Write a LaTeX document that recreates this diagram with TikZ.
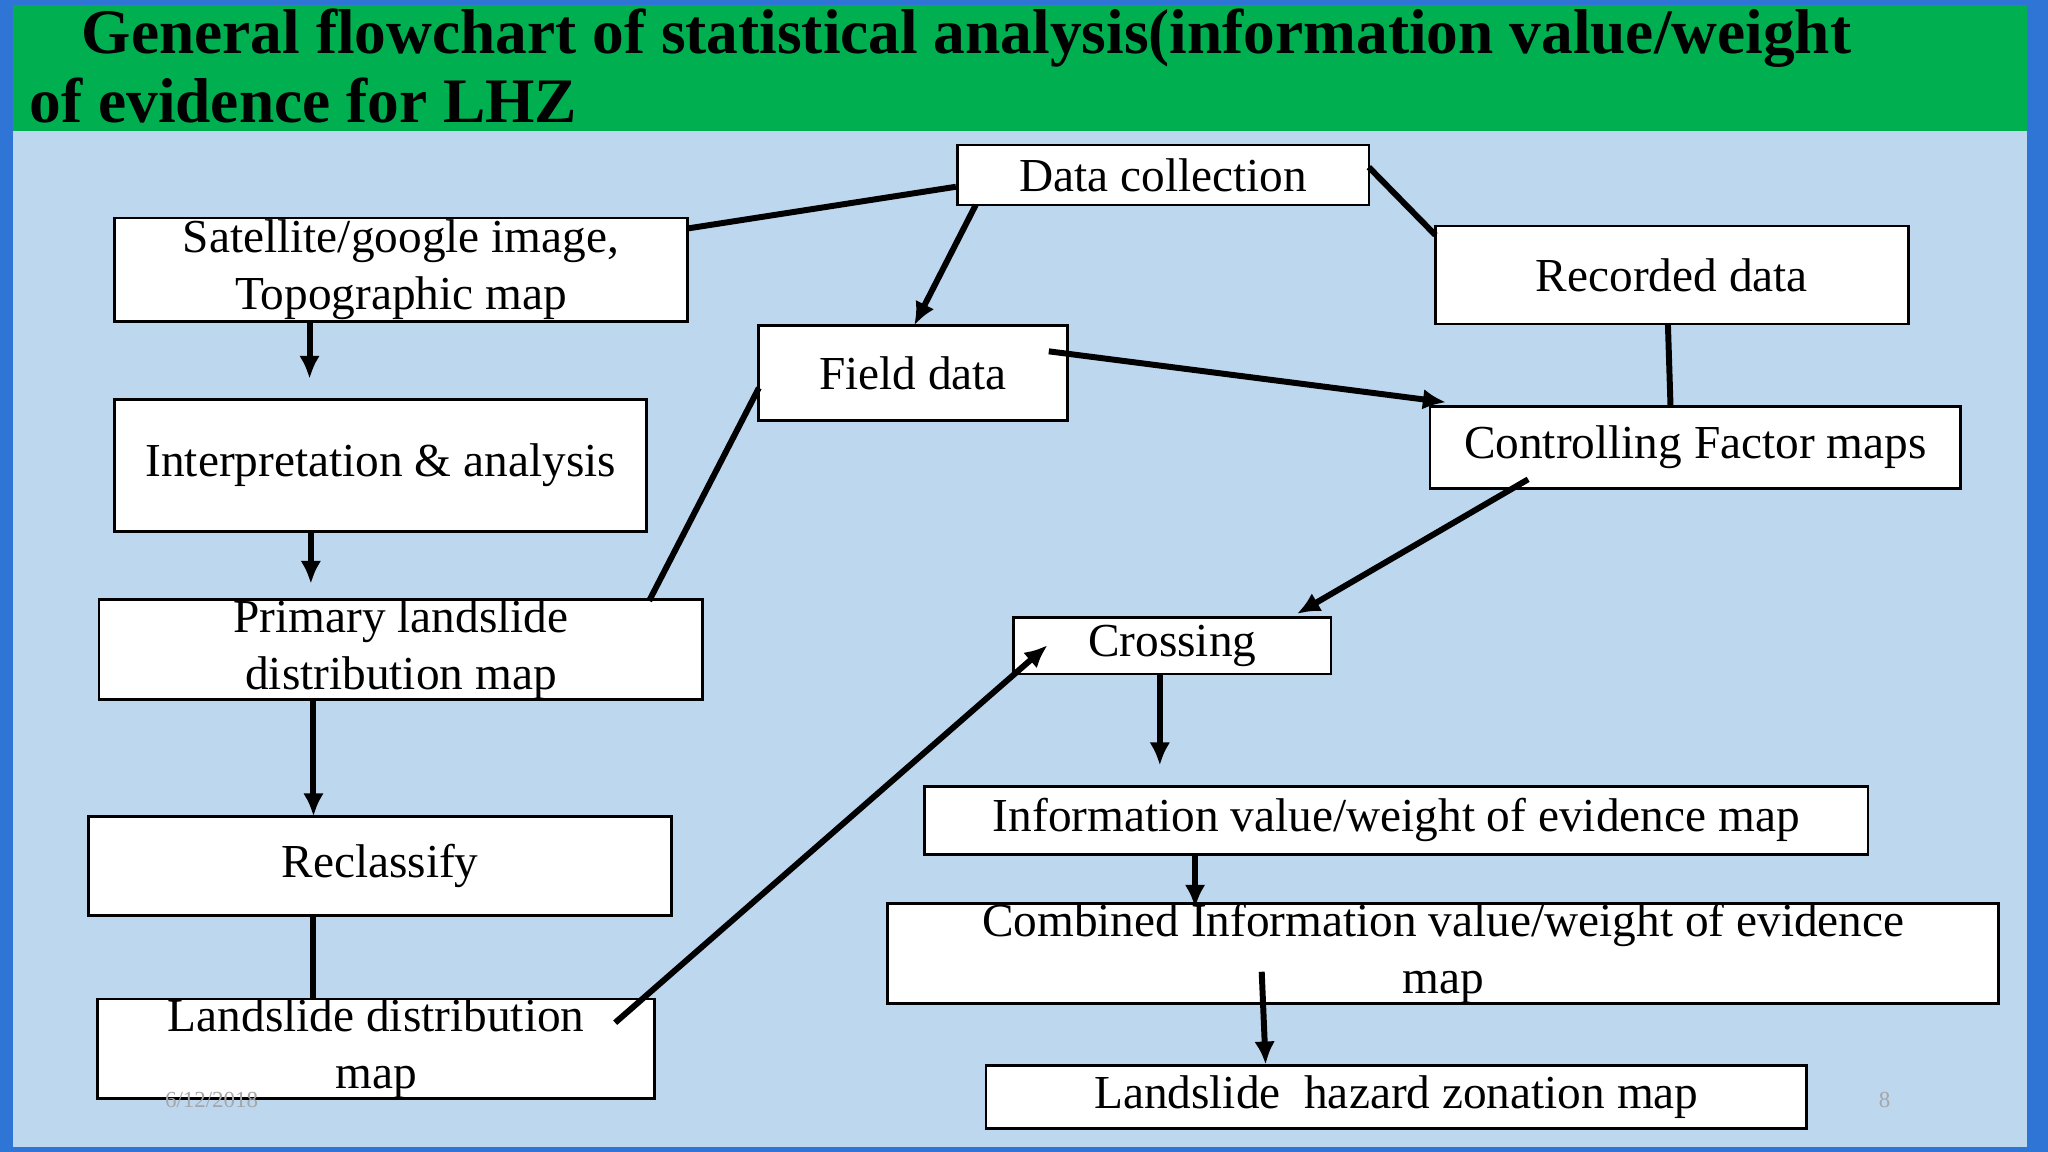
\documentclass[tikz,border=0pt]{standalone}
\usepackage{fontspec}
\setmainfont{Liberation Serif}
\usetikzlibrary{arrows.meta}
\definecolor{bgblue}{HTML}{BDD7EE}
\definecolor{titlegreen}{HTML}{00B050}
\definecolor{frameblue}{HTML}{2E75D6}
\begin{document}
\begin{tikzpicture}[x=0.01cm,y=-0.01cm,
  box/.style={draw=black,fill=white,line width=0.6pt,inner sep=0pt,align=center,font=\fontsize{10.3}{12.4}\selectfont},
  conn/.style={line width=1.3pt},
  arr/.style={line width=1.3pt,-{Latex[length=5pt,width=4.5pt]}}]
\useasboundingbox (0,0) rectangle (1568,882);
\fill[frameblue] (0,0) rectangle (1568,882);
\fill[bgblue] (10,4) rectangle (1552,878);
\fill[titlegreen] (10,4) rectangle (1552,100);
\node[anchor=north west,align=left,inner sep=0pt,font=\fontsize{13.8}{15}\selectfont\bfseries] (title) at (22,6) {\hspace*{0.4cm}General flowchart of statistical analysis(information value/weight\\of evidence for LHZ};
\node[box,minimum width=3.15cm,minimum height=0.46cm] (datacol) at (890.5,134) {Data collection};
\node[box,minimum width=4.38cm,minimum height=0.79cm] (sat) at (307,206.5) {Satellite/google image,\\Topographic map};
\node[box,minimum width=3.62cm,minimum height=0.75cm] (rec) at (1280,210.5) {Recorded data};
\node[box,minimum width=2.36cm,minimum height=0.73cm] (field) at (699,285.5) {Field data};
\node[box,minimum width=4.07cm,minimum height=1.01cm] (interp) at (291.5,356.5) {Interpretation \& analysis};
\node[box,minimum width=4.06cm,minimum height=0.63cm] (ctrl) at (1298,342.5) {Controlling Factor maps};
\node[box,minimum width=4.62cm,minimum height=0.75cm] (primary) at (307,497.5) {Primary landslide\\distribution map};
\node[box,minimum width=2.43cm,minimum height=0.43cm] (crossing) at (897.5,494.5) {Crossing};
\node[box,minimum width=7.22cm,minimum height=0.52cm] (info) at (1069,628) {Information value/weight of evidence map};
\node[box,minimum width=8.5cm,minimum height=0.70cm] (combined) at (1105,730) {Combined Information value/weight of evidence\\map};
\node[box,minimum width=4.46cm,minimum height=0.76cm] (reclass) at (291,663) {Reclassify};
\node[box,minimum width=4.26cm,minimum height=0.74cm] (lds) at (288,803) {Landslide distribution\\map};
\node[box,minimum width=6.28cm,minimum height=0.48cm] (lhz) at (1069,840) {Landslide\ \ hazard zonation map};
\node[text=gray!70,font=\fontsize{5}{6}\selectfont] (date) at (162,842) {6/12/2018};
\node[text=gray!70,font=\fontsize{5}{6}\selectfont] (pnum) at (1443,842) {8};
% connector ends
\coordinate (satTop) at (526,175);
\coordinate (dcLow) at (747,157);
\coordinate (fieldTop) at (700,249);
\coordinate (dcEast) at (1048,128);
\coordinate (recNW) at (1099,180);
\coordinate (satArr) at (237,290);
\coordinate (satB) at (237,246);
\coordinate (intB) at (238,407);
\coordinate (intArr) at (238,447);
\coordinate (prTR) at (497,460);
\coordinate (fldW) at (581,297);
\coordinate (fldR) at (803,269);
\coordinate (ctrlNW) at (1107,308);
\coordinate (recB) at (1277,248);
\coordinate (ctrlT) at (1279,311);
\coordinate (ctrlB) at (1170,367);
\coordinate (crossNE) at (993,470);
\coordinate (prB) at (240,535);
\coordinate (recT) at (240,625);
\coordinate (rcB) at (240,701);
\coordinate (ldsT) at (240,766);
\coordinate (ldsR) at (471,783);
\coordinate (crossW) at (802,494);
\coordinate (crossB) at (888,516);
\coordinate (crossArr) at (888,586);
\coordinate (infoB) at (915,654);
\coordinate (combT) at (915,695);
\coordinate (combIn) at (966,744);
\coordinate (lhzT) at (969,815);
\draw[conn] (datacol.west|-0,143) -- (satTop);
\draw[arr] (dcLow) -- (fieldTop);
\draw[conn] (dcEast) -- (recNW);
\draw[arr] (satB) -- (satArr);
\draw[arr] (intB) -- (intArr);
\draw[conn] (prTR) -- (fldW);
\draw[arr] (fldR) -- (ctrlNW);
\draw[conn] (recB) -- (ctrlT);
\draw[arr] (ctrlB) -- (crossNE);
\draw[arr] (prB) -- (recT);
\draw[conn] (rcB) -- (ldsT);
\draw[arr] (ldsR) -- (crossW);
\draw[arr] (crossB) -- (crossArr);
\draw[arr] (infoB) -- (combT);
\draw[arr] (combIn) -- (lhzT);
\end{tikzpicture}
\end{document}
